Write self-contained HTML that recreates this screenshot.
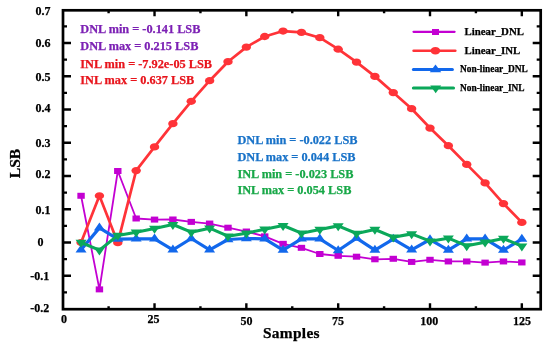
<!DOCTYPE html><html><head><meta charset="utf-8"><title>DNL / INL vs Samples</title><style>
html,body{margin:0;padding:0;background:#fff;}body{width:550px;height:347px;overflow:hidden;}
svg{display:block;}text{font-family:"Liberation Serif","Times New Roman",serif;font-weight:bold;stroke:currentColor;stroke-width:0.25px;}
</style></head><body>
<svg width="550" height="347" viewBox="0 0 550 347">
<rect width="550" height="347" fill="#fff"/>
<g>
<polyline points="81.06,195.78 99.43,289.38 117.8,171.01 136.16,218.49 154.53,219.59 172.89,219.49 191.25,221.88 209.62,223.55 227.99,227.7 246.35,231.53 264.72,236.35 283.08,243.83 301.44,247.82 319.81,254 338.18,255.8 356.54,256.7 374.9,259.29 393.27,258.79 411.63,261.92 430,259.79 448.37,261.45 466.73,261.45 485.09,262.62 503.46,261.45 521.83,262.45" fill="none" stroke="#C300D2" stroke-width="1.8" stroke-linejoin="round" stroke-linecap="round"/>
<rect x="77.36" y="192.78" width="7.4" height="6" fill="#C300D2"/>
<rect x="95.73" y="286.38" width="7.4" height="6" fill="#C300D2"/>
<rect x="114.09" y="168.01" width="7.4" height="6" fill="#C300D2"/>
<rect x="132.46" y="215.49" width="7.4" height="6" fill="#C300D2"/>
<rect x="150.83" y="216.59" width="7.4" height="6" fill="#C300D2"/>
<rect x="169.19" y="216.49" width="7.4" height="6" fill="#C300D2"/>
<rect x="187.56" y="218.88" width="7.4" height="6" fill="#C300D2"/>
<rect x="205.92" y="220.55" width="7.4" height="6" fill="#C300D2"/>
<rect x="224.29" y="224.7" width="7.4" height="6" fill="#C300D2"/>
<rect x="242.65" y="228.53" width="7.4" height="6" fill="#C300D2"/>
<rect x="261.02" y="233.35" width="7.4" height="6" fill="#C300D2"/>
<rect x="279.38" y="240.83" width="7.4" height="6" fill="#C300D2"/>
<rect x="297.75" y="244.82" width="7.4" height="6" fill="#C300D2"/>
<rect x="316.11" y="251" width="7.4" height="6" fill="#C300D2"/>
<rect x="334.48" y="252.8" width="7.4" height="6" fill="#C300D2"/>
<rect x="352.84" y="253.7" width="7.4" height="6" fill="#C300D2"/>
<rect x="371.2" y="256.29" width="7.4" height="6" fill="#C300D2"/>
<rect x="389.57" y="255.79" width="7.4" height="6" fill="#C300D2"/>
<rect x="407.94" y="258.92" width="7.4" height="6" fill="#C300D2"/>
<rect x="426.3" y="256.79" width="7.4" height="6" fill="#C300D2"/>
<rect x="444.67" y="258.45" width="7.4" height="6" fill="#C300D2"/>
<rect x="463.03" y="258.45" width="7.4" height="6" fill="#C300D2"/>
<rect x="481.39" y="259.62" width="7.4" height="6" fill="#C300D2"/>
<rect x="499.76" y="258.45" width="7.4" height="6" fill="#C300D2"/>
<rect x="518.12" y="259.45" width="7.4" height="6" fill="#C300D2"/>
</g><g>
<polyline points="81.06,242.53 99.43,195.78 117.8,242.67 136.16,170.61 154.53,146.91 172.89,123.7 191.25,101.29 209.62,80.71 227.99,61.69 246.35,47.09 264.72,36.52 283.08,31.03 301.44,32.36 319.81,37.68 338.18,49.22 356.54,62.09 374.9,76.38 393.27,92.61 411.63,108.7 430,128.05 448.37,145.71 466.73,164.4 485.09,182.88 503.46,203.6 521.83,222.42" fill="none" stroke="#FF3338" stroke-width="2.7" stroke-linejoin="round" stroke-linecap="round"/>
<ellipse cx="81.06" cy="242.53" rx="4.7" ry="3.65" fill="#FF3338"/>
<ellipse cx="99.43" cy="195.78" rx="4.7" ry="3.65" fill="#FF3338"/>
<ellipse cx="117.8" cy="242.67" rx="4.7" ry="3.65" fill="#FF3338"/>
<ellipse cx="136.16" cy="170.61" rx="4.7" ry="3.65" fill="#FF3338"/>
<ellipse cx="154.53" cy="146.91" rx="4.7" ry="3.65" fill="#FF3338"/>
<ellipse cx="172.89" cy="123.7" rx="4.7" ry="3.65" fill="#FF3338"/>
<ellipse cx="191.25" cy="101.29" rx="4.7" ry="3.65" fill="#FF3338"/>
<ellipse cx="209.62" cy="80.71" rx="4.7" ry="3.65" fill="#FF3338"/>
<ellipse cx="227.99" cy="61.69" rx="4.7" ry="3.65" fill="#FF3338"/>
<ellipse cx="246.35" cy="47.09" rx="4.7" ry="3.65" fill="#FF3338"/>
<ellipse cx="264.72" cy="36.52" rx="4.7" ry="3.65" fill="#FF3338"/>
<ellipse cx="283.08" cy="31.03" rx="4.7" ry="3.65" fill="#FF3338"/>
<ellipse cx="301.44" cy="32.36" rx="4.7" ry="3.65" fill="#FF3338"/>
<ellipse cx="319.81" cy="37.68" rx="4.7" ry="3.65" fill="#FF3338"/>
<ellipse cx="338.18" cy="49.22" rx="4.7" ry="3.65" fill="#FF3338"/>
<ellipse cx="356.54" cy="62.09" rx="4.7" ry="3.65" fill="#FF3338"/>
<ellipse cx="374.9" cy="76.38" rx="4.7" ry="3.65" fill="#FF3338"/>
<ellipse cx="393.27" cy="92.61" rx="4.7" ry="3.65" fill="#FF3338"/>
<ellipse cx="411.63" cy="108.7" rx="4.7" ry="3.65" fill="#FF3338"/>
<ellipse cx="430" cy="128.05" rx="4.7" ry="3.65" fill="#FF3338"/>
<ellipse cx="448.37" cy="145.71" rx="4.7" ry="3.65" fill="#FF3338"/>
<ellipse cx="466.73" cy="164.4" rx="4.7" ry="3.65" fill="#FF3338"/>
<ellipse cx="485.09" cy="182.88" rx="4.7" ry="3.65" fill="#FF3338"/>
<ellipse cx="503.46" cy="203.6" rx="4.7" ry="3.65" fill="#FF3338"/>
<ellipse cx="521.83" cy="222.42" rx="4.7" ry="3.65" fill="#FF3338"/>
</g><g>
<polyline points="81.06,249.81 99.43,227.87 117.8,239.18 136.16,238.84 154.53,238.84 172.89,249.81 191.25,238.51 209.62,249.81 227.99,239.51 246.35,238.51 264.72,238.84 283.08,250.15 301.44,238.84 319.81,238.84 338.18,250.48 356.54,238.18 374.9,250.15 393.27,239.18 411.63,249.81 430,239.51 448.37,250.15 466.73,238.84 485.09,238.84 503.46,250.15 521.83,239.18" fill="none" stroke="#1268EC" stroke-width="3.2" stroke-linejoin="round" stroke-linecap="round"/>
<polygon points="81.06,244.48 75.56,252.48 86.56,252.48" fill="#1268EC"/>
<polygon points="99.43,222.54 93.93,230.54 104.93,230.54" fill="#1268EC"/>
<polygon points="117.8,233.84 112.3,241.84 123.3,241.84" fill="#1268EC"/>
<polygon points="136.16,233.51 130.66,241.51 141.66,241.51" fill="#1268EC"/>
<polygon points="154.53,233.51 149.03,241.51 160.03,241.51" fill="#1268EC"/>
<polygon points="172.89,244.48 167.39,252.48 178.39,252.48" fill="#1268EC"/>
<polygon points="191.25,233.18 185.75,241.18 196.75,241.18" fill="#1268EC"/>
<polygon points="209.62,244.48 204.12,252.48 215.12,252.48" fill="#1268EC"/>
<polygon points="227.99,234.17 222.49,242.17 233.49,242.17" fill="#1268EC"/>
<polygon points="246.35,233.18 240.85,241.18 251.85,241.18" fill="#1268EC"/>
<polygon points="264.72,233.51 259.22,241.51 270.22,241.51" fill="#1268EC"/>
<polygon points="283.08,244.81 277.58,252.81 288.58,252.81" fill="#1268EC"/>
<polygon points="301.44,233.51 295.94,241.51 306.94,241.51" fill="#1268EC"/>
<polygon points="319.81,233.51 314.31,241.51 325.31,241.51" fill="#1268EC"/>
<polygon points="338.18,245.15 332.68,253.15 343.68,253.15" fill="#1268EC"/>
<polygon points="356.54,232.84 351.04,240.84 362.04,240.84" fill="#1268EC"/>
<polygon points="374.9,244.81 369.4,252.81 380.4,252.81" fill="#1268EC"/>
<polygon points="393.27,233.84 387.77,241.84 398.77,241.84" fill="#1268EC"/>
<polygon points="411.63,244.48 406.13,252.48 417.13,252.48" fill="#1268EC"/>
<polygon points="430,234.17 424.5,242.17 435.5,242.17" fill="#1268EC"/>
<polygon points="448.37,244.81 442.87,252.81 453.87,252.81" fill="#1268EC"/>
<polygon points="466.73,233.51 461.23,241.51 472.23,241.51" fill="#1268EC"/>
<polygon points="485.09,233.51 479.59,241.51 490.59,241.51" fill="#1268EC"/>
<polygon points="503.46,244.81 497.96,252.81 508.96,252.81" fill="#1268EC"/>
<polygon points="521.83,233.84 516.33,241.84 527.33,241.84" fill="#1268EC"/>
</g><g>
<polyline points="81.06,242.5 99.43,250.15 117.8,235.52 136.16,232.19 154.53,228.53 172.89,224.55 191.25,232.19 209.62,228.2 227.99,236.18 246.35,233.19 264.72,229.2 283.08,225.54 301.44,233.19 319.81,229.53 338.18,225.88 356.54,233.52 374.9,229.53 393.27,237.18 411.63,233.85 430,241.17 448.37,238.18 466.73,245.82 485.09,242.17 503.46,238.51 521.83,246.16" fill="none" stroke="#0BA85A" stroke-width="3.1" stroke-linejoin="round" stroke-linecap="round"/>
<polygon points="75.56,239.83 86.56,239.83 81.06,247.83" fill="#0BA85A"/>
<polygon points="93.93,247.48 104.93,247.48 99.43,255.48" fill="#0BA85A"/>
<polygon points="112.3,232.85 123.3,232.85 117.8,240.85" fill="#0BA85A"/>
<polygon points="130.66,229.53 141.66,229.53 136.16,237.53" fill="#0BA85A"/>
<polygon points="149.03,225.87 160.03,225.87 154.53,233.87" fill="#0BA85A"/>
<polygon points="167.39,221.88 178.39,221.88 172.89,229.88" fill="#0BA85A"/>
<polygon points="185.75,229.53 196.75,229.53 191.25,237.53" fill="#0BA85A"/>
<polygon points="204.12,225.54 215.12,225.54 209.62,233.54" fill="#0BA85A"/>
<polygon points="222.49,233.52 233.49,233.52 227.99,241.52" fill="#0BA85A"/>
<polygon points="240.85,230.52 251.85,230.52 246.35,238.52" fill="#0BA85A"/>
<polygon points="259.22,226.53 270.22,226.53 264.72,234.53" fill="#0BA85A"/>
<polygon points="277.58,222.88 288.58,222.88 283.08,230.88" fill="#0BA85A"/>
<polygon points="295.94,230.52 306.94,230.52 301.44,238.52" fill="#0BA85A"/>
<polygon points="314.31,226.87 325.31,226.87 319.81,234.87" fill="#0BA85A"/>
<polygon points="332.68,223.21 343.68,223.21 338.18,231.21" fill="#0BA85A"/>
<polygon points="351.04,230.86 362.04,230.86 356.54,238.86" fill="#0BA85A"/>
<polygon points="369.4,226.87 380.4,226.87 374.9,234.87" fill="#0BA85A"/>
<polygon points="387.77,234.51 398.77,234.51 393.27,242.51" fill="#0BA85A"/>
<polygon points="406.13,231.19 417.13,231.19 411.63,239.19" fill="#0BA85A"/>
<polygon points="424.5,238.5 435.5,238.5 430,246.5" fill="#0BA85A"/>
<polygon points="442.87,235.51 453.87,235.51 448.37,243.51" fill="#0BA85A"/>
<polygon points="461.23,243.16 472.23,243.16 466.73,251.16" fill="#0BA85A"/>
<polygon points="479.59,239.5 490.59,239.5 485.09,247.5" fill="#0BA85A"/>
<polygon points="497.96,235.84 508.96,235.84 503.46,243.84" fill="#0BA85A"/>
<polygon points="516.33,243.49 527.33,243.49 521.83,251.49" fill="#0BA85A"/>
</g>
<path d="M63 292.38h4M540.7 292.38h-4M63 275.75h8M540.7 275.75h-8M63 259.12h4M540.7 259.12h-4M63 242.5h8M540.7 242.5h-8M63 225.88h4M540.7 225.88h-4M63 209.25h8M540.7 209.25h-8M63 192.62h4M540.7 192.62h-4M63 176h8M540.7 176h-8M63 159.38h4M540.7 159.38h-4M63 142.75h8M540.7 142.75h-8M63 126.12h4M540.7 126.12h-4M63 109.5h8M540.7 109.5h-8M63 92.88h4M540.7 92.88h-4M63 76.25h8M540.7 76.25h-8M63 59.62h4M540.7 59.62h-4M63 43h8M540.7 43h-8M63 26.37h4M540.7 26.37h-4M108.61 309.2v-3M108.61 10.3v3M154.53 309.2v-6M154.53 10.3v6M200.44 309.2v-3M200.44 10.3v3M246.35 309.2v-6M246.35 10.3v6M292.26 309.2v-3M292.26 10.3v3M338.18 309.2v-6M338.18 10.3v6M384.09 309.2v-3M384.09 10.3v3M430 309.2v-6M430 10.3v6M475.91 309.2v-3M475.91 10.3v3M521.83 309.2v-6M521.83 10.3v6" stroke="#000" stroke-width="2.4" fill="none"/>
<rect x="63" y="10.3" width="477.7" height="298.9" fill="none" stroke="#000" stroke-width="2.7"/>
<text x="43" y="15.1" font-size="12" text-anchor="middle">0.7</text>
<text x="43" y="47" font-size="12" text-anchor="middle">0.6</text>
<text x="43" y="81.2" font-size="12" text-anchor="middle">0.5</text>
<text x="43" y="111.8" font-size="12" text-anchor="middle">0.4</text>
<text x="43" y="147.1" font-size="12" text-anchor="middle">0.3</text>
<text x="43" y="178.4" font-size="12" text-anchor="middle">0.2</text>
<text x="43" y="214.25" font-size="12" text-anchor="middle">0.1</text>
<text x="40.4" y="246.3" font-size="12" text-anchor="middle">0</text>
<text x="39.8" y="279.9" font-size="12" text-anchor="middle">-0.1</text>
<text x="39.8" y="311.7" font-size="12" text-anchor="middle">-0.2</text>
<text x="63.9" y="323" font-size="12" text-anchor="middle">0</text>
<text x="153.4" y="323" font-size="12" text-anchor="middle">25</text>
<text x="246.4" y="324.8" font-size="12" text-anchor="middle">50</text>
<text x="338" y="324.8" font-size="12" text-anchor="middle">75</text>
<text x="429.3" y="324.8" font-size="12" text-anchor="middle">100</text>
<text x="522.1" y="324.8" font-size="12" text-anchor="middle">125</text>
<text x="291.4" y="337.6" font-size="15.4" letter-spacing="0.3" text-anchor="middle">Samples</text>
<text transform="translate(19.6 163.5) rotate(-90)" font-size="15.5" text-anchor="middle">LSB</text>
<text x="80.3" y="33.2" font-size="12.3" fill="#7C20B4" color="#7C20B4">DNL min = -0.141 LSB</text>
<text x="80.3" y="50" font-size="12.3" fill="#7C20B4" color="#7C20B4">DNL max = 0.215 LSB</text>
<text x="80.3" y="67.8" font-size="12.3" fill="#E8141C" color="#E8141C">INL min = -7.92e-05 LSB</text>
<text x="80.3" y="84.1" font-size="12.3" fill="#E8141C" color="#E8141C">INL max = 0.637 LSB</text>
<text x="237.4" y="144.1" font-size="12.3" fill="#1872C8" color="#1872C8">DNL min = -0.022 LSB</text>
<text x="237.4" y="161.1" font-size="12.3" fill="#1872C8" color="#1872C8">DNL max = 0.044 LSB</text>
<text x="237.4" y="177.7" font-size="12.3" fill="#18A848" color="#18A848">INL min = -0.023 LSB</text>
<text x="237.4" y="194.2" font-size="12.3" fill="#18A848" color="#18A848">INL max = 0.054 LSB</text>
<g>
<path d="M413.5 31.8H454.6" stroke="#C300D2" stroke-width="2.2" stroke-linecap="round"/>
<rect x="432" y="29" width="7" height="6" fill="#C300D2"/>
<path d="M413.6 50.7H455.3" stroke="#FF3338" stroke-width="2.6" stroke-linecap="round"/>
<ellipse cx="435.4" cy="50.7" rx="4.8" ry="3.8" fill="#FF3338"/>
<path d="M413.4 69.5H452.4" stroke="#1268EC" stroke-width="3" stroke-linecap="round"/>
<polygon points="435.5,64.4 429.75,72.2 441.25,72.2" fill="#1268EC"/>
<path d="M413.4 88H453.5" stroke="#0BA85A" stroke-width="3.1" stroke-linecap="round"/>
<polygon points="430.2,85.5 441.2,85.5 435.7,93.3" fill="#0BA85A"/>
</g>
<text x="464.5" y="35" font-size="10.8">Linear_DNL</text>
<text x="464.5" y="53.9" font-size="10.8">Linear_INL</text>
<text x="460" y="71.8" font-size="9.4">Non-linear_DNL</text>
<text x="460" y="91.2" font-size="9.4">Non-linear_INL</text>
</svg></body></html>
